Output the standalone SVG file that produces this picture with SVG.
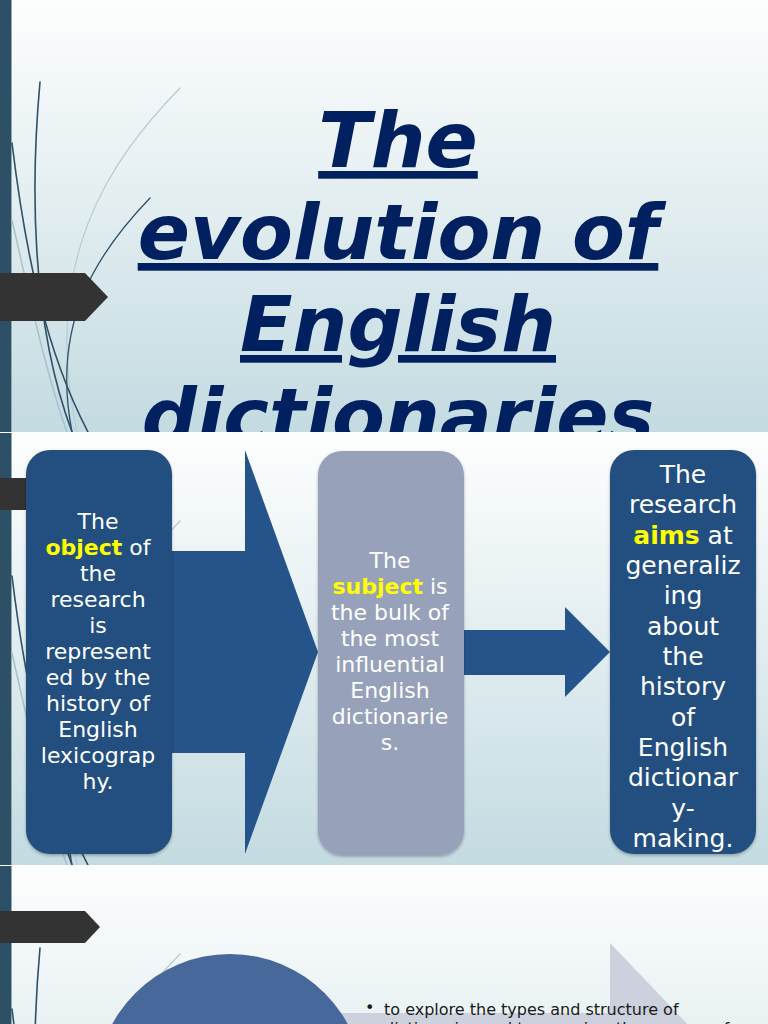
<svg xmlns="http://www.w3.org/2000/svg" xmlns:xlink="http://www.w3.org/1999/xlink" width="768" height="1024" viewBox="0 0 768 1024">
  <defs>
    <linearGradient id="bg" x1="0" y1="0" x2="0" y2="1">
      <stop offset="0" stop-color="#fdfefe"/>
      <stop offset="0.35" stop-color="#eaf2f4"/>
      <stop offset="1" stop-color="#c3dbe1"/>
    </linearGradient>
    <filter id="shadow" x="-10%" y="-10%" width="120%" height="120%">
      <feDropShadow dx="0" dy="1.5" stdDeviation="1.5" flood-color="#000" flood-opacity="0.3"/>
    </filter>
    <g id="wisps" fill="none" stroke-linecap="round">
      <path d="M180,88 C110,160 40,260 77,432" stroke="#b7ccd4" stroke-width="1.2"/>
      <path d="M12,220 C30,300 48,380 67,432" stroke="#a9c1ca" stroke-width="1.5"/>
      <path d="M40,82 C31,180 30,320 72,432" stroke="#2e5068" stroke-width="1.6"/>
      <path d="M12,143 C25,250 45,350 88,432" stroke="#2e5068" stroke-width="1.6"/>
      <path d="M150,198 C100,250 50,320 72,432" stroke="#2e5068" stroke-width="1.3"/>
    </g>
    <clipPath id="clip1"><rect x="0" y="0" width="768" height="432"/></clipPath>
    <clipPath id="clip2"><rect x="0" y="433" width="768" height="432"/></clipPath>
    <clipPath id="clip3"><rect x="0" y="866" width="768" height="158"/></clipPath>
    <style>
      .title { font-family: "DejaVu Sans", sans-serif; font-weight: bold; font-style: italic; font-size: 77px; fill: #002060; text-anchor: middle; text-decoration: underline; }
      .b1 { font-family: "DejaVu Sans", sans-serif; fill: #ffffff; text-anchor: middle; font-size: 22px; }
      .b3 { font-family: "DejaVu Sans", sans-serif; fill: #ffffff; text-anchor: middle; font-size: 25px; }
      .hl { font-weight: bold; fill: #ffff00; }
      .bar { fill: #2d5067; }
      .tab { fill: #333333; }
      .dark { fill: #234f80; }
      .arrow { fill: #245489; }
      .bullet { font-family: "DejaVu Sans", sans-serif; font-size: 16px; fill: #1a1a1a; }
    </style>
  </defs>

  <rect x="0" y="0" width="768" height="1024" fill="#ffffff"/>

  <!-- Slide 1 -->
  <g id="slide1" clip-path="url(#clip1)">
    <rect x="0" y="0" width="768" height="432" fill="url(#bg)"/>
    <rect class="bar" x="0" y="0" width="11" height="432"/>
    <rect x="11" y="0" width="1" height="432" fill="#8ea8b5"/>
    <use xlink:href="#wisps"/>
    <path class="tab" d="M0,273 H85 L108,297 L85,321 H0 Z"/>
    <g id="title">
      <text class="title" x="398" y="167">The</text>
      <text class="title" x="398" y="259">evolution of</text>
      <text class="title" x="398" y="351">English</text>
      <text class="title" x="398" y="443">dictionaries</text>
    </g>
  </g>

  <!-- Slide 2 -->
  <g id="slide2" clip-path="url(#clip2)">
    <rect x="0" y="433" width="768" height="432" fill="url(#bg)"/>
    <rect class="bar" x="0" y="433" width="11" height="432"/>
    <rect x="11" y="433" width="1" height="432" fill="#8ea8b5"/>
    <use xlink:href="#wisps" transform="translate(0,433)"/>
    <path class="tab" d="M0,478 H60 L70,494 L60,510 H0 Z"/>
  </g>

  <g id="connectors">
    <path id="arrow1" class="arrow" d="M170,551 H245 V450 L318,652 L245,854 V753 H170 Z"/>
    <path id="arrow2" class="arrow" d="M462,630 H565 V607 L610,652 L565,697 V675 H462 Z"/>
  </g>

  <g id="node-object">
    <rect class="dark" x="26" y="450" width="146" height="404" rx="24" filter="url(#shadow)"/>
    <text class="b1" x="98" y="529">The</text>
    <text class="b1" x="98" y="555"><tspan class="hl">object</tspan> of</text>
    <text class="b1" x="98" y="581">the</text>
    <text class="b1" x="98" y="607">research</text>
    <text class="b1" x="98" y="633">is</text>
    <text class="b1" x="98" y="659">represent</text>
    <text class="b1" x="98" y="685">ed by the</text>
    <text class="b1" x="98" y="711">history of</text>
    <text class="b1" x="98" y="737">English</text>
    <text class="b1" x="98" y="763">lexicograp</text>
    <text class="b1" x="98" y="789">hy.</text>
  </g>

  <g id="node-subject">
    <rect x="318" y="451" width="146" height="404" rx="24" fill="#97a2ba" filter="url(#shadow)"/>
    <text class="b1" x="390" y="568">The</text>
    <text class="b1" x="390" y="594"><tspan class="hl">subject</tspan> is</text>
    <text class="b1" x="390" y="620">the bulk of</text>
    <text class="b1" x="390" y="646">the most</text>
    <text class="b1" x="390" y="672">influential</text>
    <text class="b1" x="390" y="698">English</text>
    <text class="b1" x="390" y="724">dictionarie</text>
    <text class="b1" x="390" y="750">s.</text>
  </g>

  <g id="node-aims">
    <rect class="dark" x="610" y="450" width="146" height="404" rx="24" filter="url(#shadow)"/>
    <text class="b3" x="683" y="483">The</text>
    <text class="b3" x="683" y="513.3">research</text>
    <text class="b3" x="683" y="543.7"><tspan class="hl">aims</tspan> at</text>
    <text class="b3" x="683" y="574">generaliz</text>
    <text class="b3" x="683" y="604.3">ing</text>
    <text class="b3" x="683" y="634.7">about</text>
    <text class="b3" x="683" y="665">the</text>
    <text class="b3" x="683" y="695.3">history</text>
    <text class="b3" x="683" y="725.7">of</text>
    <text class="b3" x="683" y="756">English</text>
    <text class="b3" x="683" y="786.3">dictionar</text>
    <text class="b3" x="683" y="816.7">y-</text>
    <text class="b3" x="683" y="847">making.</text>
  </g>

  <!-- Slide 3 -->
  <g id="slide3" clip-path="url(#clip3)">
    <rect x="0" y="866" width="768" height="432" fill="url(#bg)"/>
    <rect class="bar" x="0" y="866" width="11" height="432"/>
    <rect x="11" y="866" width="1" height="432" fill="#8ea8b5"/>
    <use xlink:href="#wisps" transform="translate(0,866)"/>
    <path class="tab" d="M0,911 H85 L100,927 L85,943 H0 Z"/>
    <path id="grey-arrow" d="M330,1013 H610 V943 L760,1100 L610,1260 V1200 H330 Z" fill="#cdd1dd"/>
    <circle id="circle" cx="230" cy="1088" r="134" fill="#46689b"/>
    <g id="bullets">
      <text class="bullet" x="365" y="1013">•</text>
      <text class="bullet" x="384" y="1015">to explore the types and structure of</text>
      <text class="bullet" x="384" y="1034">dictionaries and to overview the process of</text>
    </g>
  </g>
</svg>
